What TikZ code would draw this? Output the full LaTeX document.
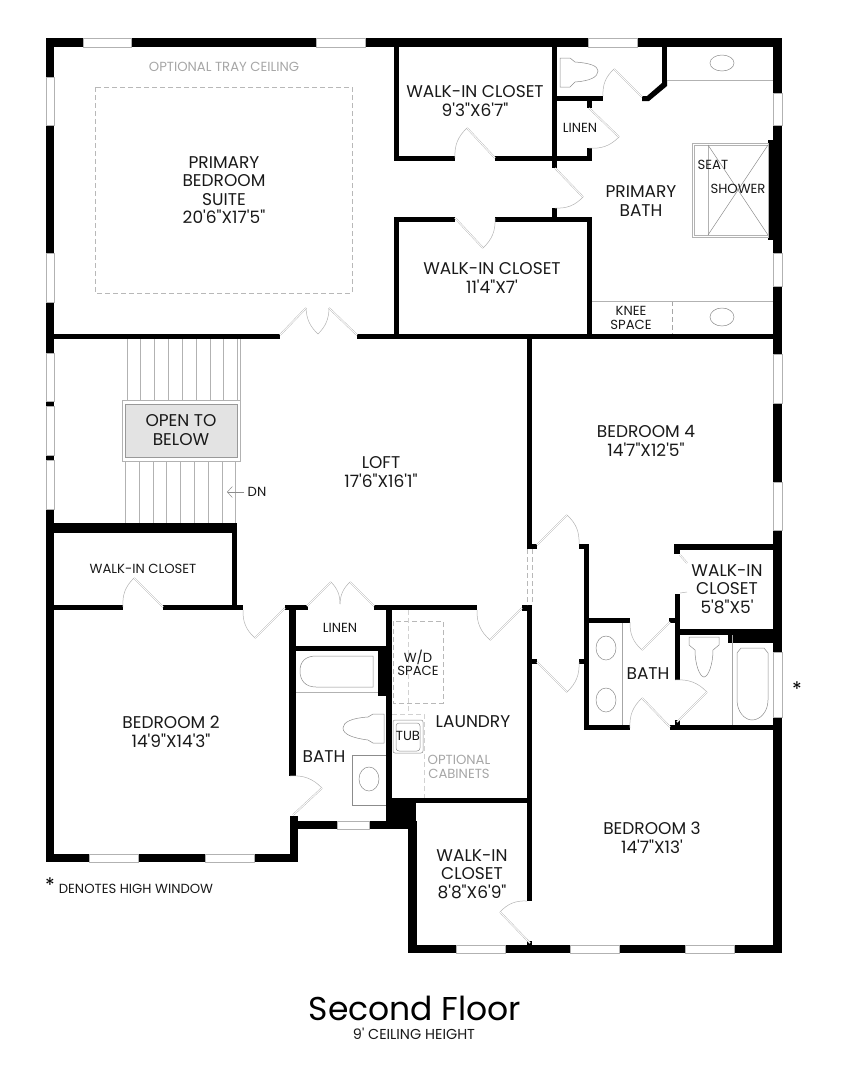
\documentclass[tikz,border=0pt]{standalone}
\usepackage{fontspec}
\setmainfont{Poppins}[Ligatures=TeXOff]
\usetikzlibrary{arrows.meta}
\begin{document}
\begin{tikzpicture}[x=1pt,y=-1pt,
    wall/.style={fill=black},
    window/.style={draw=black!30,line width=0.7pt,fill=white},
    leaf/.style={draw=black!30,line width=0.4pt,double=white,double distance=0.9pt},
    swing/.style={draw=black!30,line width=0.5pt},
    fixture/.style={draw=black!45,line width=0.5pt},
    hidden line/.style={draw=black!28,line width=0.7pt,dash pattern=on 5pt off 3pt},
    room/.style={font=\fontsize{17}{18.5}\selectfont,align=center,text=black!90,inner sep=0pt},
    small room/.style={font=\fontsize{13.2}{13.5}\selectfont,align=center,text=black!90,inner sep=0pt},
    faint room/.style={font=\fontsize{13.2}{13.5}\selectfont,align=center,text=black!35,inner sep=0pt},
    star/.style={font=\fontsize{20}{20}\selectfont,inner sep=0pt},
]
    \useasboundingbox (0,0) rectangle (841,1080);
    \begin{scope}[wall]
    % outside
    \fill (46,38) rectangle (782,47);
    \fill (46,38) rectangle (54,862);
    \fill (773,38) rectangle (782,953);
    \fill (46,854) rectangle (298,862);
    \fill (290,816) rectangle (298,862);
    \fill (290,821) rectangle (416,829);
    \fill (408,821) rectangle (417,953);
    \fill (408,945) rectangle (782,953);
    \fill (386,798) rectangle (416,829);
    % primary suite
    \fill (46,334) rectangle (280,339);
    \fill (357,334) rectangle (782,339);
    \fill (394,47) rectangle (399,161);
    \fill (394,156) rectangle (455,161);
    \fill (495,156) rectangle (592,161);
    \fill (552,47) rectangle (557,168);
    \fill (557,96) rectangle (603,101);
    \fill (587,96) rectangle (592,108);
    \fill (587,148) rectangle (592,161);
    \fill (662,47) rectangle (667,83);
    \fill (667,80) -- (667,86) -- (649,101) -- (642,101) -- (642,96) -- (647,96) -- (662,83) -- cycle;
    \fill (552,208) rectangle (557,222);
    \fill (394,217) rectangle (455,222);
    \fill (495,217) rectangle (592,222);
    \fill (394,217) rectangle (399,335);
    \fill (587,217) rectangle (592,335);
    \fill (768,140) rectangle (773,240);
    % loft side
    \fill (46,523) rectangle (237,533);
    \fill (232,523) rectangle (237,610);
    \fill (54,605) rectangle (123,610);
    \fill (163,605) rectangle (243,610);
    \fill (527,339) rectangle (532,549);
    \fill (527,544) rectangle (537,549);
    \fill (522,605) rectangle (532,611);
    \fill (527,605) rectangle (532,901);
    \fill (527,941) rectangle (532,945);
    \fill (532,659) rectangle (537,664);
    \fill (579,544) rectangle (589,549);
    \fill (579,659) rectangle (589,664);
    \fill (584,544) rectangle (589,730);
    % bath and laundry
    \fill (285,605) rectangle (308,610);
    \fill (374,605) rectangle (477,610);
    \fill (289,605) rectangle (296,776);
    \fill (386,605) rectangle (392,798);
    \fill (296,646) rectangle (386,651);
    \fill (378,651) rectangle (392,696);
    \fill (392,798) rectangle (527,803);
    % right suite
    \fill (584,618) rectangle (630,623);
    \fill (669,618) rectangle (680,623);
    \fill (675,594) rectangle (680,680);
    \fill (674,544) rectangle (680,554);
    \fill (674,544) rectangle (773,550);
    \fill (675,629) rectangle (773,635);
    \fill (728,635) rectangle (773,643);
    \fill (584,725) rectangle (630,730);
    \fill (670,725) rectangle (773,730);
    \fill (675,720) rectangle (680,725);
    \end{scope}
    \begin{scope}[window]
    \filldraw (83,38) rectangle (131,47);
    \filldraw (316,38) rectangle (365,47);
    \filldraw (588,38) rectangle (637,47);
    \filldraw (46,77) rectangle (54,125);
    \filldraw (46,253) rectangle (54,302);
    \filldraw (46,353) rectangle (54,401);
    \filldraw (46,406) rectangle (54,455);
    \filldraw (46,460) rectangle (54,509);
    \filldraw (89,854) rectangle (138,862);
    \filldraw (205,854) rectangle (254,862);
    \filldraw (337,821) rectangle (369,829);
    \filldraw (456,945) rectangle (505,953);
    \filldraw (570,945) rectangle (619,953);
    \filldraw (685,945) rectangle (734,953);
    \filldraw (773,93) rectangle (782,125);
    \filldraw (773,253) rectangle (782,286);
    \filldraw (773,354) rectangle (782,403);
    \filldraw (773,482) rectangle (782,530);
    \filldraw (773,652) rectangle (782,717);
    \end{scope}
    \draw[leaf] (280,335) -- (306,308);
    \draw[leaf] (357,335) -- (329,308);
    \draw[swing] (306,308) to[bend right=22] (318,334);
    \draw[swing] (329,308) to[bend left=22] (318,334);
    \draw[leaf] (495,158) -- (467,128);
    \draw[swing] (467,128) to[bend right=25] (455,158);
    \draw[leaf] (455,218) -- (483,248);
    \draw[swing] (483,248) to[bend right=25] (495,218);
    \draw[leaf] (555,168) -- (583,197);
    \draw[swing] (583,197) to[bend left=25] (555,208);
    \draw[leaf] (589,108) -- (619,137);
    \draw[swing] (619,137) to[bend left=25] (589,148);
    \draw[leaf] (642,97) -- (614,69);
    \draw[swing] (614,69) to[bend right=25] (603,96);
    \draw[leaf] (163,607) -- (134,578);
    \draw[swing] (134,578) to[bend right=25] (123,607);
    \draw[swing] (243,610) to[bend right=25] (255,638);
    \draw[leaf] (255,638) -- (285,608);
    \draw[leaf] (307,606) -- (331,582);
    \draw[leaf] (374,606) -- (350,582);
    \draw[swing] (331,582) to[bend left=22] (340,604);
    \draw[swing] (350,582) to[bend right=22] (340,604);
    \draw[leaf] (522,608) -- (490,640);
    \draw[swing] (490,640) to[bend left=25] (477,610);
    \draw[leaf] (537,545) -- (567,515);
    \draw[swing] (567,515) to[bend left=25] (579,544);
    \draw[leaf] (537,662) -- (567,692);
    \draw[swing] (567,692) to[bend right=25] (579,662);
    \draw[swing] (630,622) to[bend right=25] (642,650);
    \draw[leaf] (642,650) -- (670,622);
    \draw[swing] (630,728) to[bend left=25] (642,698);
    \draw[leaf] (642,698) -- (670,727);
    \draw[swing] (675,680) to[bend left=25] (707,692);
    \draw[leaf] (707,692) -- (677,722);
    \draw[leaf] (680,555) -- (687,563);
    \draw[swing] (680,593) -- (687,592);
    \draw[swing] (290,776) to[bend left=25] (322,788);
    \draw[leaf] (322,788) -- (293,815);
    \draw[swing] (527,901) to[bend right=25] (500,912);
    \draw[leaf] (500,912) -- (530,943);
    % tray and dashed
    \draw[hidden line] (95,87) rectangle (352,293);
    \draw[hidden line] (393,621) rectangle (443,703);
    \draw[hidden line,draw=black!18] (408,610) -- (408,714);
    \draw[hidden line,draw=black!18] (392,714) -- (424,714) -- (424,798);
    \draw[hidden line,draw=black!35,line width=0.5pt] (672,301) -- (672,334);
    \draw[hidden line] (527,549) -- (527,605);
    \draw[hidden line] (532,549) -- (532,605);
    % stairs
    \foreach \stepx in {127,140,154,168,182,196,210,223,237,240}
        \draw[fixture,draw=black!30] (\stepx,339) -- (\stepx,400);
    \foreach \stepx in {125,139,153,166,180,194,208,222,235}
        \draw[fixture,draw=black!30] (\stepx,461) -- (\stepx,523);
    \draw[fixture,draw=black!30] (122,400) rectangle (240,461);
    \draw[fixture,draw=black!40,fill=black!11] (125,404) rectangle (237,457);
    \coordinate (dn tail) at (244,492);
    \coordinate (dn head) at (227,492);
    \draw[fixture,-{Straight Barb[length=5pt,width=11pt]}] (dn tail) -- (dn head);
    % primary bath
    \draw[fixture,draw=black!30] (667,80) -- (773,80);
    \draw[fixture] (722,63) ellipse (12 and 8);
    \draw[fixture] (560,58) -- (570,58) -- (575,62) .. controls (590,63) and (598,66) .. (598,71) .. controls (598,77) and (590,81) .. (575,82) -- (570,87) -- (560,87) -- cycle;
    \draw[fixture,draw=black!30] (692,143) rectangle (768,237);
    \draw[fixture,draw=black!30] (694,145) rectangle (768,235);
    \draw[fixture,draw=black!30] (708,145) -- (708,235);
    \draw[fixture] (708,145) -- (768,235);
    \draw[fixture] (708,235) -- (768,145);
    \draw[fixture,draw=black!30] (592,301) -- (773,301);
    \draw[fixture] (722,317) ellipse (12 and 9);
    % lower baths
    \draw[fixture,draw=black!30] (296,692) -- (378,692);
    \draw[fixture] (316,656) -- (373,656) -- (373,687) -- (316,687) .. controls (305,687) and (300,680) .. (300,671) .. controls (300,662) and (305,656) .. (316,656) -- cycle;
    \draw[fixture] (384,714) -- (373,714) -- (368,717) .. controls (352,718) and (343,722) .. (343,728) .. controls (343,734) and (352,738) .. (368,740) -- (373,743) -- (384,743) -- cycle;
    \draw[fixture] (386,755) -- (352,755) -- (352,805) -- (386,805);
    \draw[fixture] (369,779) ellipse (10 and 12);
    \draw[fixture,rounded corners=2pt] (393,720) rectangle (423,753);
    \draw[fixture,rounded corners=3pt] (396,723) rectangle (420,751);
    \draw[fixture,draw=black!35] (622,623) -- (622,725);
    \draw[fixture] (606,648) ellipse (10 and 12);
    \draw[fixture] (606,700) ellipse (10 and 12);
    \draw[fixture] (689,637) -- (719,637) -- (719,645) -- (713,650) .. controls (713,665) and (708,677) .. (704,677) .. controls (700,677) and (695,665) .. (695,650) -- (689,645) -- cycle;
    \draw[fixture,draw=black!35] (732,635) -- (732,725);
    \draw[fixture] (737,653) -- (737,700) .. controls (737,712) and (745,720) .. (752,720) .. controls (760,720) and (768,712) .. (768,700) -- (768,653) -- (764,648) -- (741,648) -- cycle;
    % labels
    \node[faint room] (tray label) at (224,67) {OPTIONAL TRAY CEILING};
    \node[room] (primary bedroom) at (224,190) {PRIMARY\\BEDROOM\\SUITE\\20'6"X17'5"};
    \node[room] (closet one) at (475,101) {WALK-IN CLOSET\\9'3"X6'7"};
    \node[small room] (linen one) at (580,128) {LINEN};
    \node[room] (primary bath) at (641,201) {PRIMARY\\BATH};
    \node[small room] (seat label) at (713,165) {SEAT};
    \node[small room] (shower label) at (738,189) {SHOWER};
    \node[small room] (knee label) at (631,318) {KNEE\\SPACE};
    \node[room] (closet two) at (492,278) {WALK-IN CLOSET\\11'4"X7'};
    \node[room] (open label) at (181,430) {OPEN TO\\BELOW};
    \node[room] (loft label) at (381,472) {LOFT\\17'6"X16'1"};
    \node[small room] (dn label) at (257,492) {DN};
    \node[room] (bedroom four) at (646,441) {BEDROOM 4\\14'7"X12'5"};
    \node[small room] (closet three) at (143,569) {WALK-IN CLOSET};
    \node[room] (closet four) at (727,589) {WALK-IN\\CLOSET\\5'8"X5'};
    \node[room] (bath one) at (648,674) {BATH};
    \node[star] (star right) at (797,689) {*};
    \node[small room] (linen two) at (340,628) {LINEN};
    \node[small room] (wd label) at (418,663) {W/D\\SPACE};
    \node[small room] (tub label) at (408,736) {TUB};
    \node[room] (laundry label) at (473,722) {LAUNDRY};
    \node[faint room] (cabinets label) at (459,767) {OPTIONAL\\CABINETS};
    \node[room] (bath two) at (324,757) {BATH};
    \node[room] (bedroom two) at (171,732) {BEDROOM 2\\14'9"X14'3"};
    \node[room] (closet five) at (472,874) {WALK-IN\\CLOSET\\8'8"X6'9"};
    \node[room] (bedroom three) at (652,838) {BEDROOM 3\\14'7"X13'};
    \node[star] (star note) at (50,885) {*};
    \node[small room] (note label) at (136,889) {DENOTES HIGH WINDOW};
    \node[inner sep=0pt,font=\fontsize{33}{33}\selectfont] (title label) at (415,1008) {Second Floor};
    \node[small room,font=\fontsize{14.4}{14.5}\selectfont] (height label) at (414,1034) {9' CEILING HEIGHT};
\end{tikzpicture}
\end{document}
